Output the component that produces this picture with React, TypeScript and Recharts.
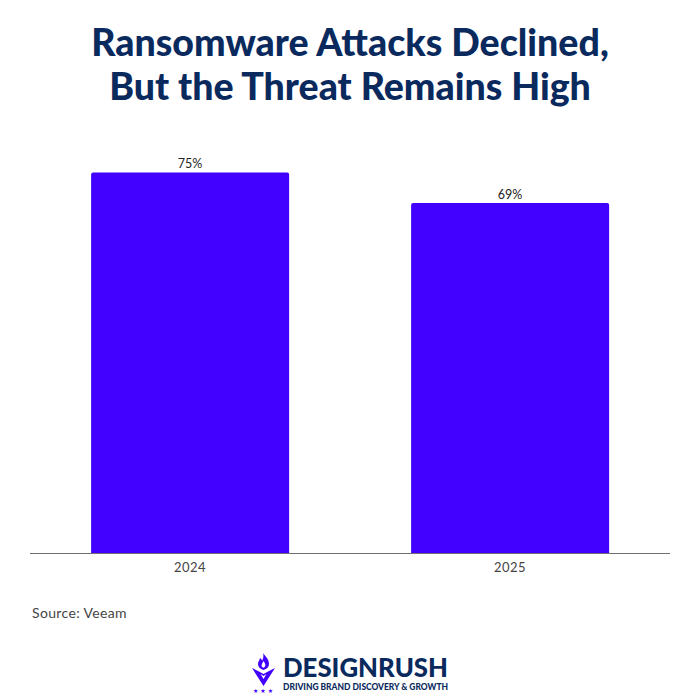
import React from "react"
import { BarChart, Bar, XAxis, YAxis, LabelList } from "recharts"

const years = ["2024", "2025"]
const shares = [75, 69]

const chartData = years.map((year, i) => ({ year, share: shares[i] }))

const font = "Lato, sans-serif"
const navy = "#0a2a5e"
const violet = "#4200ff"

const Logo = () => (
  <svg width={700} height={60} viewBox="0 0 700 60" style={{ position: "absolute", left: 0, top: 640 }}>
    {/* flame */}
    <path d="M263 13 C265 16 269 19 269 24 C269 27 267 29 263.5 30 C260 29 258 27 258 24 C258 21 260 20 260 18 C261.500 19 262 20 262 21 C263 19 264 16 263 13 Z" fill={violet} />
    <path d="M263.500 21 C265 23 266 25 265 26.500 C264 28 262.500 28 261.800 26.500 C261 25 262.500 23 263.500 21 Z" fill="#ffffff" />
    {/* shield */}
    <path d="M252 28 L258 31 L263.500 34 L269 31 L275 28 L263.500 46 Z" fill={violet} />
    <path d="M260.500 34 L263.500 36 L266.500 34 L263.500 39 Z" fill="#ffffff" />
    {/* stars */}
    <text x={264} y={53} textAnchor="middle" fontSize={6} letterSpacing={2} fill={violet} fontFamily="DejaVu Sans">★★★</text>
    <text x={283} y={37} fontFamily={font} fontWeight={900} fontSize={26} fill={navy} textLength={165} lengthAdjust="spacingAndGlyphs">DESIGNRUSH</text>
    <text x={283} y={49.500} fontFamily={font} fontWeight={900} fontSize={8.5} fill={navy} textLength={165} lengthAdjust="spacingAndGlyphs">DRIVING BRAND DISCOVERY &amp; GROWTH</text>
  </svg>
)

export default function App() {
  return (
    <div style={{ position: "absolute", left: 0, top: 0, width: 700, height: 700, background: "#ffffff", overflow: "hidden" }}>
      <div style={{ position: "absolute", left: 0, top: 20, width: 700, textAlign: "center", fontFamily: font, fontWeight: 900, fontSize: 37.5, lineHeight: "44px", color: navy }}>
        Ransomware Attacks Declined,
        <br />
        But the Threat Remains High
      </div>
      <BarChart
        width={700}
        height={700}
        data={chartData}
        barCategoryGap="19.1%"
        margin={{ top: 147, right: 30, bottom: 116.500, left: 30 }}
      >
        <XAxis
          dataKey="year"
          height={30}
          tickLine={false}
          axisLine={{ stroke: "#707070", strokeWidth: 1 }}
          tick={{ fontFamily: font, fontSize: 13, letterSpacing: 0.5, fill: "#444444" }}
          tickMargin={3}
        />
        <YAxis hide domain={[0, 80]} />
        <Bar dataKey="share" fill={violet} radius={[2, 2, 0, 0]} isAnimationActive={false}>
          <LabelList
            dataKey="share"
            position="top"
            offset={4}
            formatter={(v: any) => `${v}%`}
            style={{ fontFamily: font, fontSize: 12.5, fill: "#222222" }}
          />
        </Bar>
      </BarChart>
      <div style={{ position: "absolute", left: 32, top: 604, fontFamily: font, fontSize: 14, letterSpacing: 0.35, color: "#444444" }}>
        Source: Veeam
      </div>
      <Logo />
    </div>
  )
}
